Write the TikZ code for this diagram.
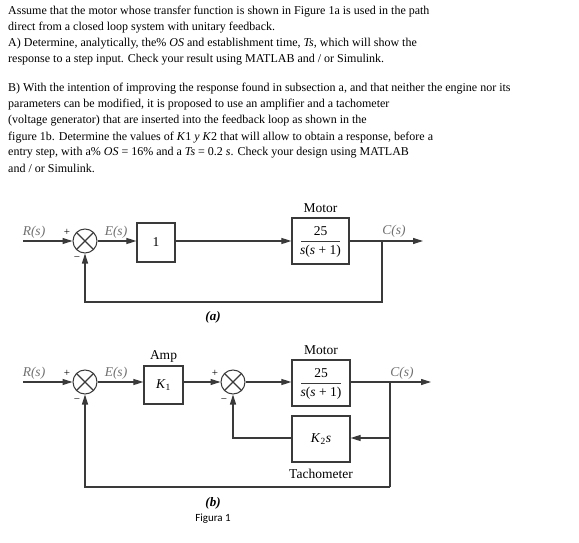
\documentclass[tikz,border=0pt]{standalone}
\usepackage{fontspec}
\setmainfont{Liberation Serif}
\newfontfamily\figfont{Carlito}
\usetikzlibrary{arrows.meta}
\definecolor{ln}{HTML}{3A3A3A}
\definecolor{lab}{HTML}{707070}
\begin{document}
\begin{tikzpicture}[x=1pt,y=-1pt,
  txt/.style={anchor=base west,inner sep=0pt,font=\fontsize{12}{14}\selectfont},
  blk/.style={draw=ln,line width=1.2pt,minimum width=#1,inner sep=0pt},
  sumj/.style={draw=ln,line width=1pt,circle,minimum size=24pt,inner sep=0pt},
  wire/.style={ln,line width=1.1pt},
  arr/.style={wire,-{Triangle[length=10pt,width=6pt]}},
  sig/.style={text=lab,font=\fontsize{13.5}{14}\selectfont\itshape,inner sep=0pt},
  lbl/.style={font=\fontsize{13.5}{14}\selectfont,inner sep=0pt},
  sgn/.style={font=\fontsize{11}{12}\selectfont,inner sep=0pt}]
\useasboundingbox (0,0) rectangle (579,543);
% text
\node[txt] (t1) at (8,15) {Assume that the motor whose transfer function is shown in Figure 1a is used in the path};
\node[txt] (t2) at (8,31) {direct from a closed loop system with unitary feedback.};
\node[txt] (t3) at (8,47) {A) Determine, analytically, the\% \textit{OS} and establishment time, \textit{Ts}, which will show the};
\node[txt] (t4) at (8,63) {response to a step input. Check your result using MATLAB and / or Simulink.};
\node[txt] (t5) at (8,92) {B) With the intention of improving the response found in subsection a, and that neither the engine nor its};
\node[txt] (t6) at (8,108) {parameters can be modified, it is proposed to use an amplifier and a tachometer};
\node[txt] (t7) at (8,124) {(voltage generator) that are inserted into the feedback loop as shown in the};
\node[txt] (t8) at (8,140) {figure 1b. Determine the values of \textit{K}1 \textit{y K}2 that will allow to obtain a response, before a};
\node[txt] (t9) at (8,156) {entry step, with a\% \textit{OS} = 16\% and a \textit{Ts} = 0.2 \textit{s}. Check your design using MATLAB};
\node[txt] (t10) at (8,172) {and / or Simulink.};
% ---------- (a)
\coordinate (ain) at (23,241);
\node[sumj] (as) at (85,241) {};
\draw[wire] (as.45)--(as.225) (as.135)--(as.315);
\node[blk=38pt,minimum height=39pt] (a1) at (156,242.5) {\fontsize{13.5}{14}\selectfont 1};
\node[blk=57pt,minimum height=46pt] (am) at (320.5,241) {};
\node[lbl] (amt) at (320.5,208) {Motor};
\node[lbl] (amn) at (320.5,231) {25};
\draw[ln,line width=0.8pt] (301,241)--(340,241);
\node[lbl] (amd) at (320.5,251) {\textit{s}(\textit{s} + 1)};
\coordinate (aout) at (423,241);
\coordinate (abr) at (382,241);
\coordinate (abot) at (382,302);
\draw[arr] (ain)--(as.west);
\draw[arr] (as.east)--(a1.west|-as.east);
\draw[arr] (a1.east|-am.west)--(am.west);
\draw[arr] (am.east)--(aout);
\draw[arr] (abr)--(abot)-|(as.south);
\node[sig] at (34,232) {R(s)};
\node[sig] at (116,232) {E(s)};
\node[sig] at (394,231) {C(s)};
\node[sgn] at (67,232) {+};
\node[sgn] at (77,259) {\textminus};
\node[font=\fontsize{13}{14}\selectfont\bfseries\itshape,inner sep=0pt] (alab) at (213,317) {(a)};
% ---------- (b)
\coordinate (bin) at (23,382);
\node[sumj] (bs1) at (85,382) {};
\draw[wire] (bs1.45)--(bs1.225) (bs1.135)--(bs1.315);
\node[blk=39pt,minimum height=38pt] (bamp) at (163.5,385) {\fontsize{13.5}{14}\selectfont\textit{K}\textsubscript{1}};
\node[lbl] (bampt) at (163.5,356) {Amp};
\node[sumj] (bs2) at (233,382) {};
\draw[wire] (bs2.45)--(bs2.225) (bs2.135)--(bs2.315);
\node[blk=58pt,minimum height=46pt] (bm) at (321,383) {};
\node[lbl] (bmt) at (321,350) {Motor};
\node[lbl] (bmn) at (321,373) {25};
\draw[ln,line width=0.8pt] (301,383)--(341,383);
\node[lbl] (bmd) at (321,393) {\textit{s}(\textit{s} + 1)};
\node[blk=58pt,minimum height=46pt] (bt) at (321,439) {\fontsize{13.5}{14}\selectfont\textit{K}\textsubscript{2}\textit{s}};
\node[lbl] (btt) at (321,474) {Tachometer};
\coordinate (bout) at (431,382);
\coordinate (bbr) at (390,382);
\coordinate (btr) at (390,438);
\coordinate (bbot) at (390,487);
\draw[arr] (bin)--(bs1.west);
\draw[arr] (bs1.east)--(bamp.west|-bs1.east);
\draw[arr] (bamp.east|-bs2.west)--(bs2.west);
\draw[arr] (bs2.east)--(bm.west|-bs2.east);
\draw[arr] (bm.east|-bout)--(bout);
\draw[wire] (bbr)--(bbot);
\draw[arr] (btr)--(bt.east|-btr);
\draw[arr] (bt.west|-btr)-|(bs2.south);
\draw[arr] (bbot)-|(bs1.south);
\node[sig] at (34,373) {R(s)};
\node[sig] at (116,373) {E(s)};
\node[sig] at (402,373) {C(s)};
\node[sgn] at (67,373) {+};
\node[sgn] at (77,401) {\textminus};
\node[sgn] at (215,373) {+};
\node[sgn] at (224,401) {\textminus};
\node[font=\fontsize{13}{14}\selectfont\bfseries\itshape,inner sep=0pt] (blab) at (213,503) {(b)};
\node[font=\fontsize{11}{12}\selectfont\figfont,inner sep=0pt] (fig) at (213,519) {Figura 1};
\end{tikzpicture}
\end{document}
